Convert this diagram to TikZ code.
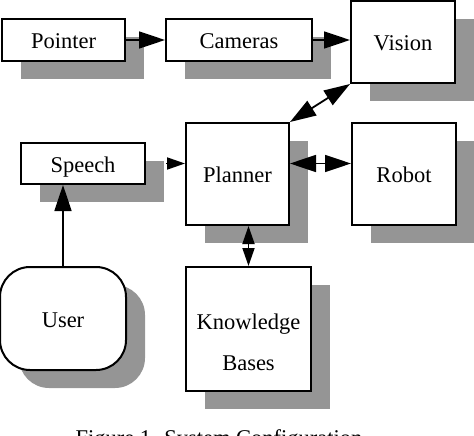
\documentclass[tikz,border=0pt]{standalone}
\usepackage{fontspec}
\setmainfont{Liberation Serif}
\usetikzlibrary{arrows.meta,shadows}
\definecolor{shadowgray}{HTML}{959595}
\begin{document}
\begin{tikzpicture}[x=1pt,y=-1pt,
		>={Triangle[length=26pt,width=17pt]},
		every node/.style={font=\fontsize{22.5}{27}\selectfont},
		box/.style={draw,line width=2pt,fill=white,text height=17pt,text depth=0pt,
			drop shadow={shadow xshift=19pt,shadow yshift=-18pt,fill=shadowgray,opacity=1}},
		link/.style={line width=1.8pt},
		short/.style={>={Triangle[length=18pt,width=12pt]}}]
	\useasboundingbox (0,0) rectangle (474,436);
	% boxes
	\node[box,minimum width=123pt,minimum height=42pt] (pointer) at (63.5,40) {Pointer};
	\node[box,minimum width=146pt,minimum height=42pt] (cameras) at (239,40) {Cameras};
	\node[box,minimum width=104pt,minimum height=82pt] (vision) at (403,42) {Vision};
	\node[box,minimum width=124pt,minimum height=41pt] (speech) at (83,163.5) {Speech};
	\node[box,minimum width=103pt,minimum height=102pt] (planner) at (237.5,174) {Planner};
	\node[box,minimum width=104pt,minimum height=102pt] (robot) at (404,174) {Robot};
	\node[box,minimum width=125pt,minimum height=124pt] (kb) at (248.5,329) {};
	\node[align=center] (kbtext) at ([yshift=-13pt]kb.center) {Knowledge\\[14pt]Bases};
	\node[box,rounded corners=30pt,minimum width=126pt,minimum height=103pt] (user) at (63,318.5) {User};
	% connectors
	\draw[link,->] (pointer.east) -- (cameras.west);
	\draw[link,->] (cameras.east) -- (cameras.east -| vision.west);
	\draw[link,<->] (vision.south west) -- (planner.north east);
	\draw[link,->,short,shorten <=20pt] (speech.east) -- (speech.east -| planner.west);
	\draw[link,<->] (speech.east -| planner.east) -- (speech.east -| robot.west);
	\draw[link,<->,short] (kb.north |- planner.south) -- (kb.north);
	\draw[link,->] (user.north) -- (user.north |- speech.south);
	% caption
	\node[anchor=base west] (caption) at (72,445) {Figure 1. System Configuration};
\end{tikzpicture}
\end{document}
